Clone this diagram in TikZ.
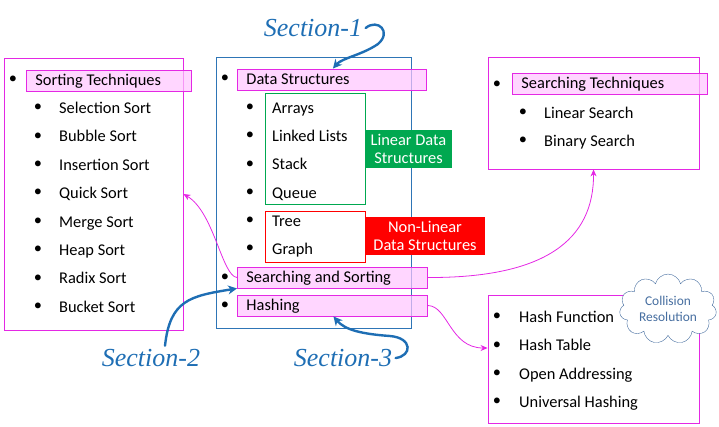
\documentclass[tikz,border=0pt]{standalone}
\usepackage{fontspec}
\setmainfont{Carlito}
\newfontfamily\handfont{Liberation Serif}
\usetikzlibrary{arrows.meta,shapes.symbols}

\definecolor{boxmag}{RGB}{228,40,228}
\definecolor{hlpink}{RGB}{255,196,255}
\definecolor{dsblue}{RGB}{46,117,182}
\definecolor{lingreen}{RGB}{0,168,80}
\definecolor{nlinred}{RGB}{255,0,0}
\definecolor{secblue}{RGB}{30,110,180}
\definecolor{cloudblue}{RGB}{70,110,160}

\tikzset{
  box/.style={draw=#1, line width=0.9pt, inner sep=0pt},
  hilite/.style={draw=boxmag, fill=hlpink, fill opacity=0.7, text opacity=1,
    line width=0.9pt, anchor=west, minimum height=21pt, inner xsep=9pt,
    inner ysep=0pt, text width=#1, align=flush left, text height=12pt, text depth=3pt},
  item/.style={anchor=west, inner sep=0pt, text height=12pt, text depth=3pt},
  dot/.style={inner sep=0pt},
  tag/.style={fill=#1, text=white, inner sep=0pt, align=center},
  link/.style={draw=boxmag, line width=0.8pt, -{Stealth[length=7pt,width=6pt]}},
  sect/.style={draw=secblue, line width=2.4pt, line cap=round,
    -{Stealth[length=9pt,width=9pt]}},
  secttext/.style={text=secblue, font=\handfont\itshape\fontsize{26}{30}\selectfont}
}

\begin{document}
\begin{tikzpicture}[x=1pt, y=-1pt, font=\fontsize{16.4}{20}\selectfont]
	%%%%% START %%%%%
	\useasboundingbox (0,0) rectangle (719,426);
	
	% outer boxes
	\node[box=boxmag, minimum width=179pt, minimum height=272pt] (sortbox) at (93.5,194) {};
	\node[box=dsblue, minimum width=195pt, minimum height=271pt] (dsbox) at (313.5,192.5) {};
	\node[box=boxmag, minimum width=211pt, minimum height=112pt] (srchbox) at (593.5,113) {};
	\node[box=boxmag, minimum width=211pt, minimum height=128pt] (hashbox) at (593.5,359) {};
	\node[box=lingreen, minimum width=100pt, minimum height=111pt] (linbox) at (315,148.5) {};
	\node[box=nlinred, minimum width=100pt, minimum height=51pt] (nlinbox) at (315,236.5) {};
	
	% headings
	\node[dot] at (13,80) {\textbullet};
	\node[hilite=147pt] (sorthd) at (26,80.5) {Sorting Techniques};
	\node[dot] at (225,79) {\textbullet};
	\node[hilite=171pt] (ds) at (237,79.5) {Data Structures};
	\node[dot] at (225,278) {\textbullet};
	\node[hilite=172pt] (srt) at (237,277.5) {Searching and Sorting};
	\node[dot] at (225,306) {\textbullet};
	\node[hilite=172pt] (hash) at (237,305.5) {Hashing};
	\node[dot] at (497,85) {\textbullet};
	\node[hilite=177pt] (srchhd) at (512,83.5) {Searching Techniques};
	
	% items
	\foreach \name [count=\i from 0] in {Selection Sort, Bubble Sort, Insertion Sort,
	    Quick Sort, Merge Sort, Heap Sort, Radix Sort, Bucket Sort}{
		\node[dot] at (38,108+28.4*\i) {\textbullet};
		\node[item] at (59,109+28.4*\i) {\name};
	}
	\foreach \name [count=\i from 0] in {Arrays, Linked Lists, Stack, Queue, Tree, Graph}{
		\node[dot] at (250,108+28.2*\i) {\textbullet};
		\node[item] at (272,109+28.2*\i) {\name};
	}
	\foreach \name [count=\i from 0] in {Linear Search, Binary Search}{
		\node[dot] at (523,113+28*\i) {\textbullet};
		\node[item] at (544,114+28*\i) {\name};
	}
	\foreach \name [count=\i from 0] in {Hash Function, Hash Table, Open Addressing,
	    Universal Hashing}{
		\node[dot] at (497,317+28.4*\i) {\textbullet};
		\node[item] at (519,318+28.4*\i) {\name};
	}
	
	% tags
	\node[tag=lingreen, minimum width=87pt, minimum height=38pt] (lintag) at (408.5,149)
	    {Linear Data\\[-2pt]Structures};
	\node[tag=nlinred, minimum width=120pt, minimum height=38pt] (nlintag) at (425,236)
	    {Non-Linear\\[-2pt]Data Structures};
	\node[cloud, cloud puffs=11, aspect=1.5, draw=cloudblue, fill=white, inner sep=0pt,
	    minimum width=97pt, minimum height=65pt, text=cloudblue, align=center,
	    font=\fontsize{13.4}{16}\selectfont] (cloud) at (668,309) {Collision\\Resolution};
	
	% links
	\draw[link] (srt.west) .. controls (222,276) and (214,212) .. (sortbox.east);
	\draw[link] (srt.east) .. controls (545,278) and (594,240) .. (srchbox.south);
	\draw[link] (hash.east) .. controls (448,306) and (450,348) .. ([yshift=11pt]hashbox.west);
	
	% sections
	\node[secttext] (sec1) at (313,28) {Section-1};
	\node[secttext] (sec2) at (151,358) {Section-2};
	\node[secttext] (sec3) at (343,358) {Section-3};
	\draw[sect] (sec1.east) .. controls (378,18) and (392,32) .. (378,44)
	    .. controls (362,55) and (342,58) .. ([xshift=1pt]ds.north);
	\draw[sect] ([xshift=14pt]sec2.north) .. controls (170,300) and (190,296) .. (srt.south west);
	\draw[sect] (sec3.east) .. controls (412,356) and (413,338) .. (390,336)
	    .. controls (362,334) and (345,330) .. ([xshift=1pt]hash.south);
	
	%%%%% END %%%%%
\end{tikzpicture}
\end{document}
